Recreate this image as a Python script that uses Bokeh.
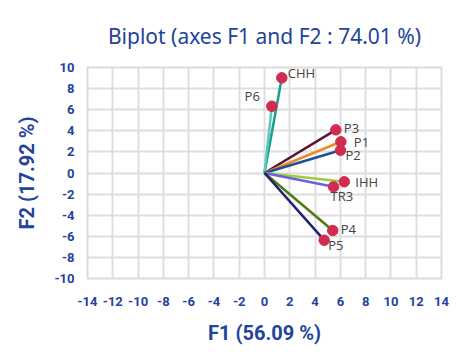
from bokeh.plotting import figure
from bokeh.models import Range1d, FixedTicker, ColumnDataSource
from bokeh.embed import file_html
from bokeh.resources import INLINE
from bokeh.core.properties import value

# ---- data ----
variables = ["CHH", "P6", "P3", "P1", "P2", "IHH", "TR3", "P4", "P5"]
f1 = [1.37, 0.58, 5.64, 6.04, 6.01, 6.31, 5.46, 5.40, 4.72]
f2 = [9.02, 6.33, 4.09, 2.96, 2.16, -0.83, -1.31, -5.45, -6.37]
x_ticks = list(range(-14, 15, 2))
y_ticks = list(range(-10, 11, 2))
chart_title = "Biplot (axes F1 and F2 : 74.01 %)"
x_title = "F1 (56.09 %)"
y_title = "F2 (17.92 %)"

# ---- styles ----
line_colors = {"CHH": "#1b9e8f", "P6": "#5cc8bb", "P3": "#5c1230", "P1": "#f0882a",
               "P2": "#1f4f8f", "IHH": "#9ccc3c", "TR3": "#7060e0", "P4": "#4d7a12",
               "P5": "#20206e"}
label_offsets = {"CHH": (6, -5, "left"), "P6": (-12, -10, "right"), "P3": (8, -2, "left"),
                 "P1": (13, 0, "left"), "P2": (5, 5, "left"), "IHH": (11, 0, "left"),
                 "TR3": (-3, 9, "left"), "P4": (8, -1, "left"), "P5": (4, 5, "left")}
blue = "#23439c"
cond = "Roboto"

p = figure(frame_width=354, frame_height=211, output_backend="svg", toolbar_location=None,
           x_range=Range1d(-14, 14), y_range=Range1d(-10, 10),
           min_border_left=87, min_border_right=17, min_border_top=67, min_border_bottom=70,
           title=chart_title)
p.background_fill_color = "white"
p.border_fill_color = "white"
p.outline_line_color = "#dcdcdc"
p.outline_line_width = 2

p.title.text_font = "Noto Sans"
p.title.text_font_style = "normal"
p.title.text_font_size = "21px"
p.title.text_color = blue
p.title.align = "center"
p.title.standoff = 36

for ax, ticks in ((p.xaxis, x_ticks), (p.yaxis, y_ticks)):
    ax.ticker = FixedTicker(ticks=ticks)
    ax.major_label_overrides = {t: str(t) for t in ticks}
    ax.axis_line_color = None
    ax.major_tick_line_color = None
    ax.minor_tick_line_color = None
    ax.major_label_text_font = cond
    ax.major_label_text_font_style = "bold"
    ax.major_label_text_font_size = "13px"
    ax.major_label_text_color = blue
    ax.axis_label_text_font = cond
    ax.axis_label_text_font_style = "bold"
    ax.axis_label_text_font_size = "20px"
    ax.axis_label_text_color = blue

p.xaxis.major_label_standoff = 12
p.yaxis.major_label_standoff = 7
p.xaxis.axis_label_standoff = 12
p.yaxis.axis_label_standoff = 12
p.xaxis.axis_label = x_title
p.yaxis.axis_label = y_title

p.grid.grid_line_color = "#dedede"
p.grid.grid_line_width = 2
p.xgrid.ticker = FixedTicker(ticks=x_ticks)
p.ygrid.ticker = FixedTicker(ticks=y_ticks)

# vectors
for v, x, y in zip(variables, f1, f2):
    p.segment(x0=0, y0=0, x1=x, y1=y, line_color=line_colors[v], line_width=2.5)

src = ColumnDataSource(dict(
    x=f1, y=f2, name=variables,
    xo=[label_offsets[v][0] for v in variables],
    yo=[label_offsets[v][1] for v in variables],
    al=[label_offsets[v][2] for v in variables]))
p.scatter("x", "y", source=src, size=10.5, fill_color="#d02c4f", line_color="#d02c4f")
p.text("x", "y", text="name", source=src, x_offset="xo", y_offset="yo", text_align="al",
       text_baseline="middle", text_font=value("Open Sans"), text_font_size="13px",
       text_color="#444444")

open("out.html", "w").write(file_html(p, INLINE))
